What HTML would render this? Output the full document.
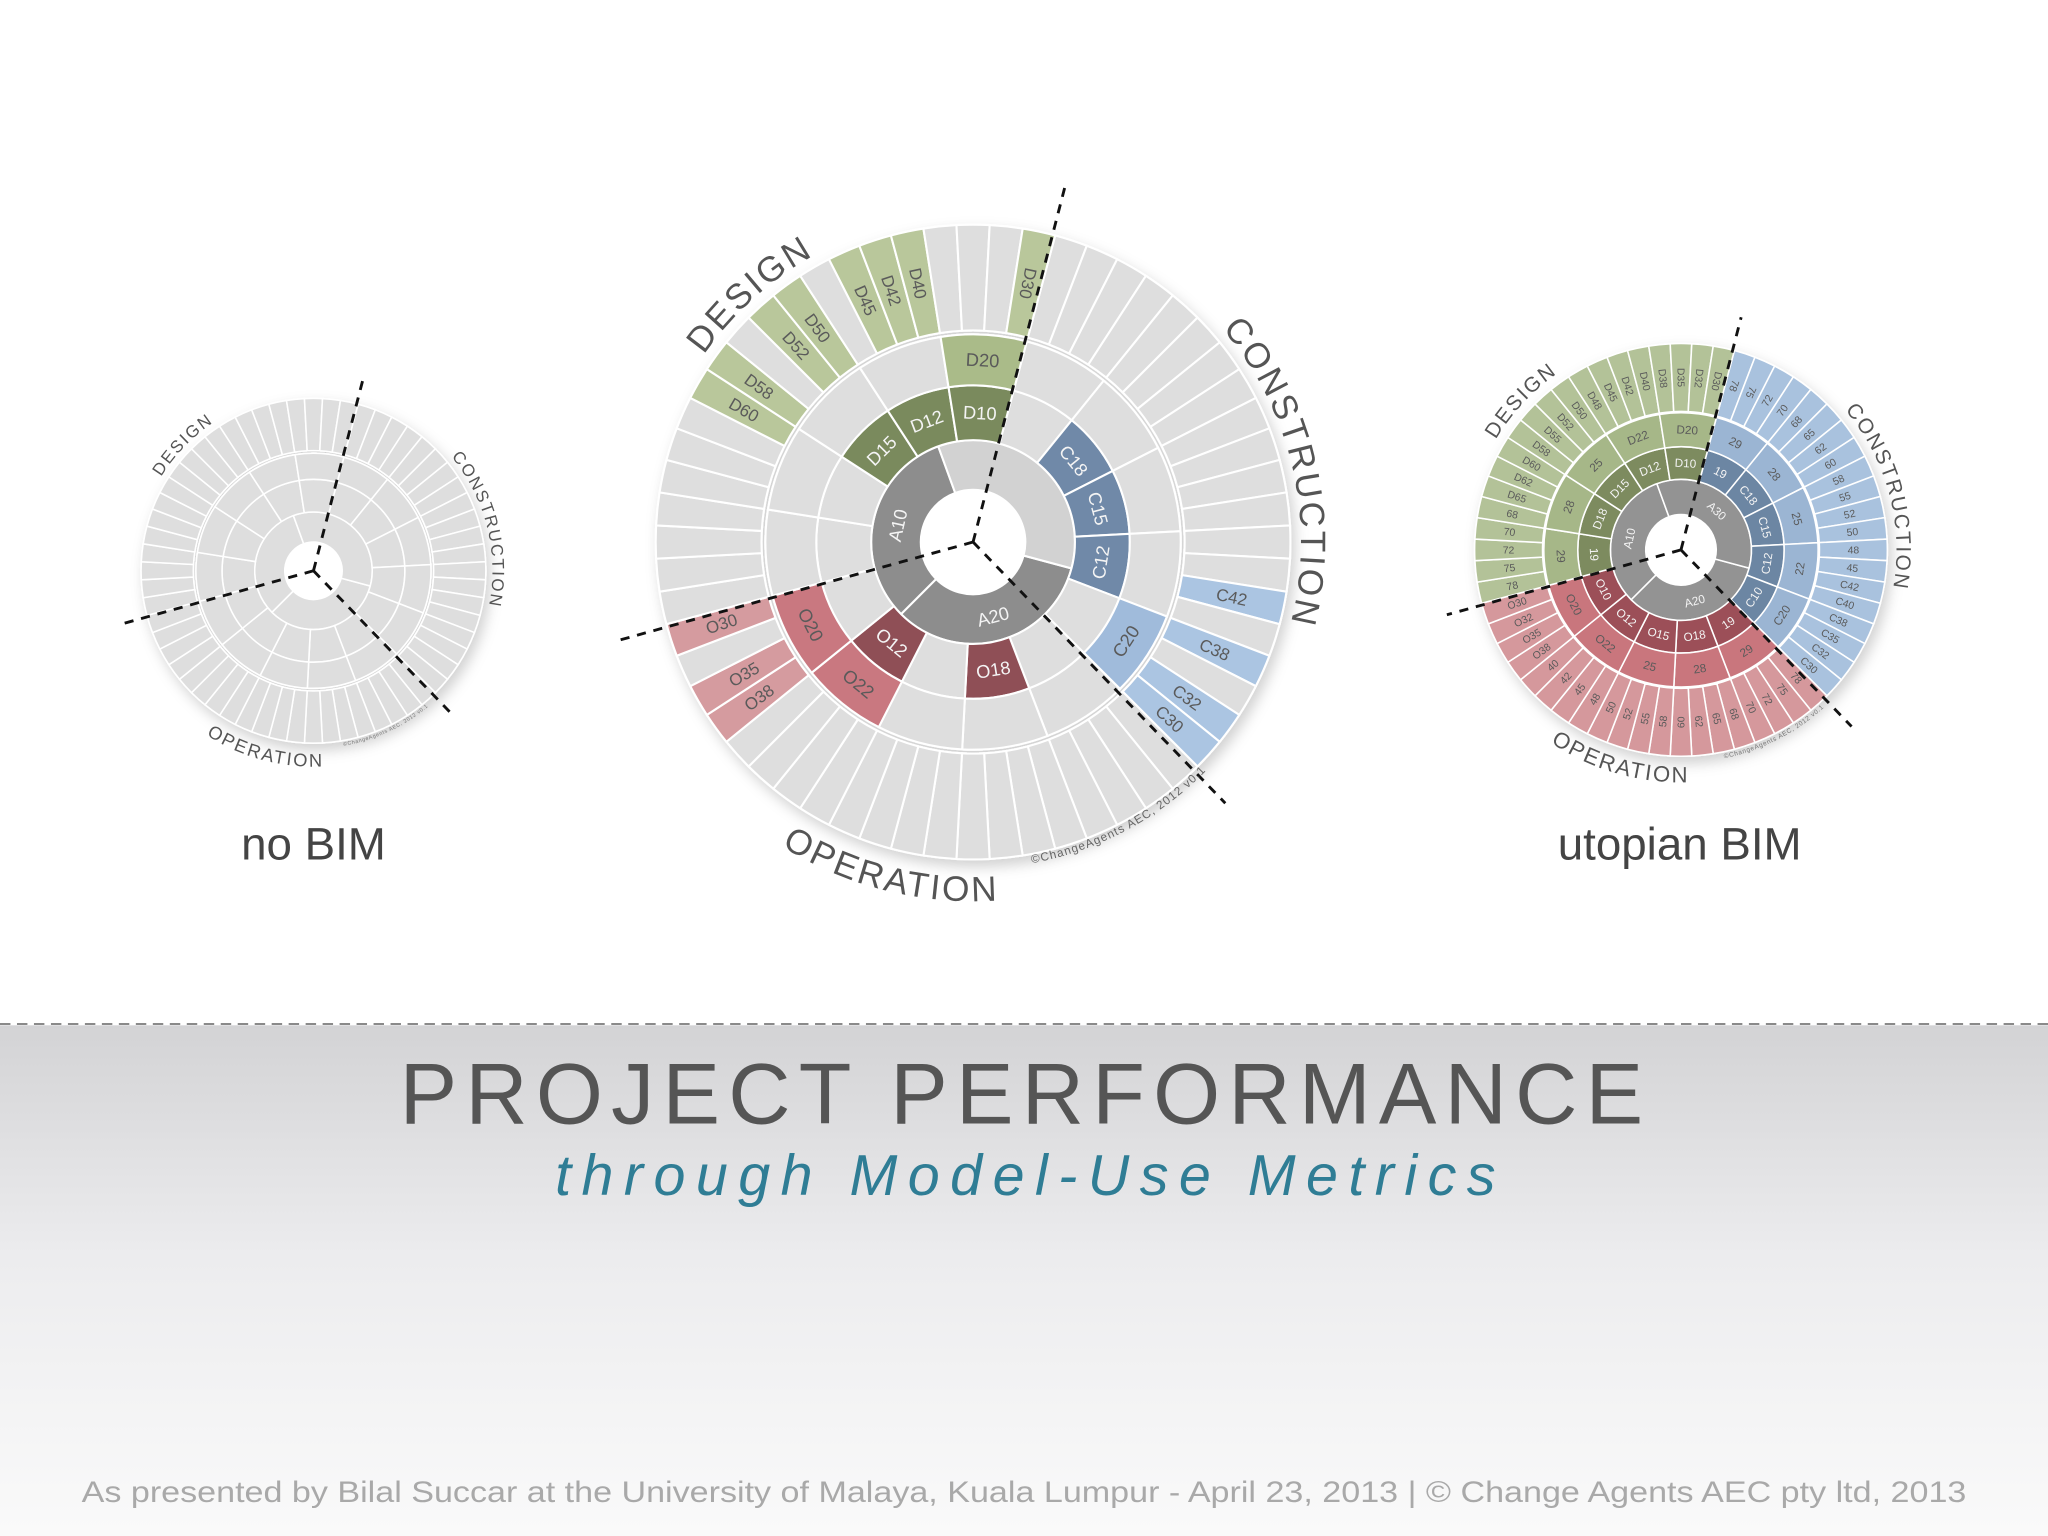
<!DOCTYPE html>
<html><head><meta charset="utf-8"><style>
html,body{margin:0;padding:0;background:#fff;}
svg{display:block;font-family:"Liberation Sans",sans-serif;}
</style></head><body>
<svg id="root" width="2048" height="1536" viewBox="0 0 1568 1176" xmlns="http://www.w3.org/2000/svg">
<defs>
<linearGradient id="band" x1="0" y1="0" x2="0" y2="1">
<stop offset="0" stop-color="#d3d3d5"/><stop offset="0.45" stop-color="#ececee"/><stop offset="1" stop-color="#fafafa"/>
</linearGradient>
<filter id="sh" x="-20%" y="-20%" width="140%" height="140%"><feDropShadow dx="3" dy="5" stdDeviation="5" flood-color="#000" flood-opacity="0.18"/></filter>
</defs>
<rect x="0" y="0" width="1568" height="1176" fill="#fff"/>
<rect x="0" y="785" width="1568" height="391" fill="url(#band)"/>
<line x1="0" y1="784" x2="1568" y2="784" stroke="#8a8a8a" stroke-width="1.6" stroke-dasharray="8,5"/>
<g id="charts"></g>
<text x="782" y="860" text-anchor="middle" font-size="66" fill="#555" textLength="952" lengthAdjust="spacing">PROJECT PERFORMANCE</text>
<text x="785" y="915" text-anchor="middle" font-size="44" font-style="italic" fill="#2f7d95" textLength="720" lengthAdjust="spacing">through Model-Use Metrics</text>
<text x="784" y="1150" text-anchor="middle" font-size="23" fill="#a9a9a9" textLength="1443" lengthAdjust="spacingAndGlyphs">As presented by Bilal Succar  at the University of Malaya, Kuala Lumpur - April 23, 2013  |  © Change Agents AEC pty ltd, 2013</text>
<text x="240" y="658" text-anchor="middle" font-size="35" fill="#444">no BIM</text>
<text x="1286" y="658" text-anchor="middle" font-size="35" fill="#444">utopian BIM</text>
</svg>
<script>
// sector start angles (degrees clockwise from top)
const sectorNames = ['construction','operation','design'];
const sectorStarts = [15, 135, 255];
const ringSegments = [3, 15, 15, 60];
const aBoundaries = [105, 225, 340];
const aLabels = ['A20','A10','A30'];
// labels per sector, clockwise order
const ring2Design = ['19','D18','D15','D12','D10'];
const ring2Construction = ['19','C18','C15','C12','C10'];
const ring2Operation = ['19','O18','O15','O12','O10'];
const ring3Design = ['29','28','25','D22','D20'];
const ring3Construction = ['29','28','25','22','C20'];
const ring3Operation = ['29','28','25','O22','O20'];
const ring4Design = ['78','75','72','70','68','D65','D62','D60','D58','D55','D52','D50','D48','D45','D42','D40','D38','D35','D32','D30'];
const ring4Construction = ['78','75','72','70','68','65','62','60','58','55','52','50','48','45','C42','C40','C38','C35','C32','C30'];
const ring4Operation = ['78','75','72','70','68','65','62','60','58','55','52','50','48','45','42','40','O38','O35','O32','O30'];
// highlighted cells in the "current" (middle) chart
const midHighlights = ['A10','A20','D10','D12','D15','C18','C15','C12','O18','O12','D20','C20','O22','O20',
  'D30','D40','D42','D45','D50','D52','D58','D60','C42','C38','C32','C30','O30','O35','O38'];

const NS='http://www.w3.org/2000/svg';
const root=document.getElementById('charts');
function el(tag,attrs,parent){const e=document.createElementNS(NS,tag);for(const k in attrs)e.setAttribute(k,attrs[k]);(parent||root).appendChild(e);return e;}
function pt(cx,cy,r,a){const t=a*Math.PI/180;return [cx+r*Math.sin(t),cy-r*Math.cos(t)];}
function wedge(cx,cy,r0,r1,a0,a1){
  const p1=pt(cx,cy,r1,a0),p2=pt(cx,cy,r1,a1),p3=pt(cx,cy,r0,a1),p4=pt(cx,cy,r0,a0);
  const lg=(a1-a0)>180?1:0;
  return `M${p1[0]},${p1[1]}A${r1},${r1} 0 ${lg} 1 ${p2[0]},${p2[1]}L${p3[0]},${p3[1]}A${r0},${r0} 0 ${lg} 0 ${p4[0]},${p4[1]}Z`;
}
const palette={
  mid:{d:['#7a8a5d','#aabb89','#b9c79b'],c:['#6f89a8','#a0bbdb','#abc5e2'],o:['#8f4f57','#c97880','#d59b9f'],a:'#8d8d8d'},
  full:{d:['#7d8b5f','#a6b788','#b3c298'],c:['#6c86a3','#9bb5d3','#a9c2de'],o:['#9c5058','#c9767d','#d5989c'],a:'#939393'}
};
function cellsFor(ring){
  const out=[];
  if(ring===0){
    for(let i=0;i<3;i++){let a0=aBoundaries[i],a1=aBoundaries[(i+1)%3];if(a1<a0)a1+=360;out.push({a0,a1,label:aLabels[i],sec:'a'});}
    return out;
  }
  const lists={1:[ring2Construction,ring2Operation,ring2Design],2:[ring3Construction,ring3Operation,ring3Design],3:[ring4Construction,ring4Operation,ring4Design]}[ring];
  const secKeys=['c','o','d'];
  for(let s=0;s<3;s++){
    const labs=lists[s];const w=120/labs.length;
    labs.forEach((lab,i)=>{out.push({a0:sectorStarts[s]+i*w,a1:sectorStarts[s]+(i+1)*w,label:lab,sec:secKeys[s]});});
  }
  return out;
}
function norm(a){return ((a%360)+360)%360;}
function drawChart(name,cx,cy,radii,mode,opts){
  const g=el('g',{filter:'url(#sh)'});
  
  
  for(let ring=0;ring<4;ring++){
    const r0=radii[ring],r1=radii[ring+1]-(ring===2?opts.gap:0);
    cellsFor(ring).forEach(c=>{
      let fill='#dedede';let hl=false;
      if(mode==='full'){hl=true;}
      else if(mode==='mid'){hl=midHighlights.indexOf(c.label)>=0;}
      if(ring===0&&mode!=='none'&&!hl) fill='#d2d2d2';
      if(hl){const pal=palette[mode==='full'?'full':'mid'];fill=c.sec==='a'?pal.a:pal[c.sec][ring-1];}
      const p=el('path',{d:wedge(cx,cy,r0,r1,c.a0,c.a1),fill:fill,stroke:'#fff','stroke-width':opts.sw},g);
      
      
      if(hl&&opts.fs){
        const am=(c.a0+c.a1)/2,rm=(r0+r1)/2;const q=pt(cx,cy,rm,am);const na=norm(am);
        let rot;
        if(ring===3){rot=(na>25&&na<180)?na-90:na+90;}
        else{rot=(na>90&&na<270)?na-180:na;}
        const fs=opts.fs[ring];
        const t=el('text',{x:q[0],y:q[1]+fs*0.35,'text-anchor':'middle','font-size':fs,fill:(ring===1||ring===0)?'#f4f4f4':'#5a5a5a',transform:`rotate(${rot} ${q[0]} ${q[1]})`},g);
        t.textContent=c.label;
        
        
      }
    });
  }
  el('circle',{cx,cy,r:radii[0],fill:'#fff'},g);
  return g;
}
function dashes(cx,cy,lens){
  const angs=[14.5,136,254.5];
  angs.forEach((a,i)=>{const q=pt(cx,cy,lens[i],a);
    const l=el('line',{x1:cx,y1:cy,x2:q[0],y2:q[1],stroke:'#111','stroke-width':2.2,'stroke-dasharray':'7,6'});
    
    
  });
}
let pid=0;
function arcText(cx,cy,r,aMid,span,txt,fs,cw,name,spacing,color){
  const id='tp'+(pid++);
  let a0,a1,d;
  if(cw){a0=aMid-span/2;a1=aMid+span/2;const p=pt(cx,cy,r,a0),q=pt(cx,cy,r,a1);d=`M${p[0]},${p[1]}A${r},${r} 0 0 1 ${q[0]},${q[1]}`;}
  else{a0=aMid+span/2;a1=aMid-span/2;const p=pt(cx,cy,r,a0),q=pt(cx,cy,r,a1);d=`M${p[0]},${p[1]}A${r},${r} 0 0 0 ${q[0]},${q[1]}`;}
  el('path',{id,d,fill:'none'});
  const t=el('text',{'font-size':fs,fill:color||'#555','letter-spacing':spacing||0});
  
  
  const tp=el('textPath',{href:'#'+id,startOffset:'50%','text-anchor':'middle'},t);
  tp.textContent=txt;
}
// left chart
drawChart('chart-no-bim',240,437,[22,45,70,92,132],'none',{gap:2,sw:1.2});
dashes(240,437,[150,152,152]);
arcText(240,437,137,314,60,'DESIGN',13,true,'no-bim-design-label',1.5);
arcText(240,437,137,76,90,'CONSTRUCTION',13,true,'no-bim-construction-label',1.5);
arcText(240,437,150,195,60,'OPERATION',14,false,'no-bim-operation-label',1.5);
arcText(240,437,136,155,40,'©ChangeAgents AEC, 2012 v0.1',4,false,'no-bim-copyright',0.5,'#777');
// middle chart
drawChart('chart-current-bim',745,415,[40,78,120,162,243],'mid',{gap:3,sw:1.6,fs:[14,14,14,13]});
dashes(745,415,[280,278,282]);
arcText(745,415,251,318,70,'DESIGN',27,true,'design-label',2);
arcText(745,415,251,77,110,'CONSTRUCTION',27,true,'construction-label',2);
arcText(745,415,275,194,70,'OPERATION',27,false,'operation-label',2);
arcText(745,415,250,152,40,'©ChangeAgents AEC, 2012 v0.1',9,false,'copyright',0.8,'#666');
// right chart
drawChart('chart-utopian-bim',1287,421,[27,54,79,106,158],'full',{gap:1,sw:1.2,fs:[9,9,9,8]});
dashes(1287,421,[184,188,186]);
arcText(1287,421,165,313,60,'DESIGN',16,true,'utopian-design-label',1.5);
arcText(1287,421,165,75,95,'CONSTRUCTION',16,true,'utopian-construction-label',1.5);
arcText(1287,421,178,196,60,'OPERATION',17,false,'utopian-operation-label',1.5);
arcText(1287,421,163,153,40,'©ChangeAgents AEC, 2012 v0.1',5,false,'utopian-copyright',0.5,'#777');
</script>
</body></html>
